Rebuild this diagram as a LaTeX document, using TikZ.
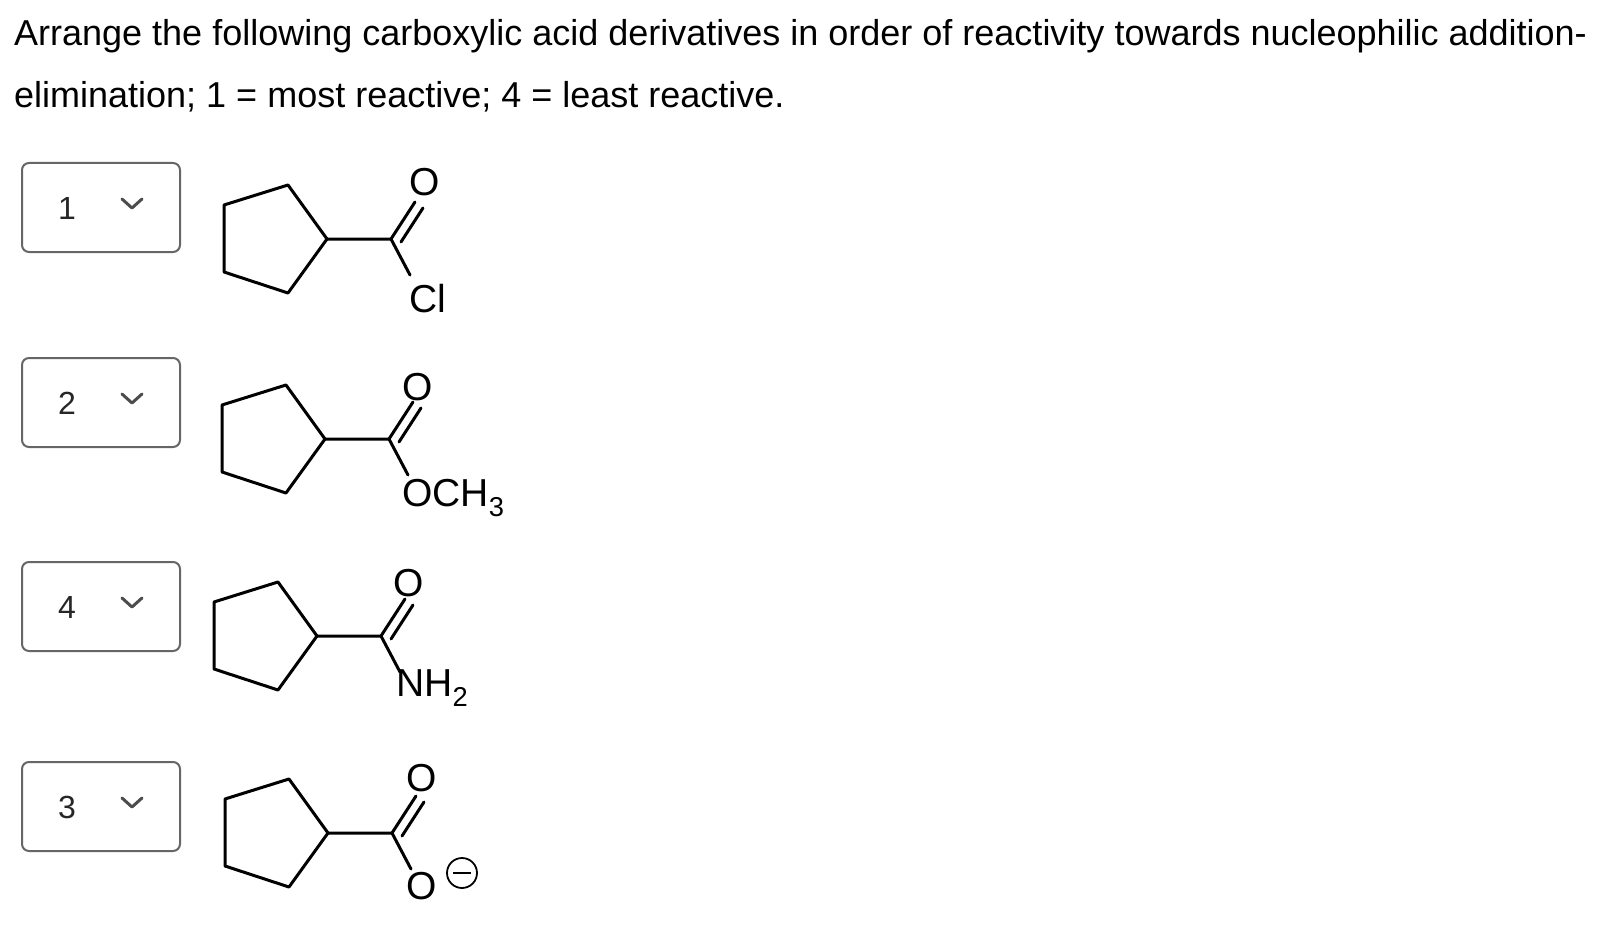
\documentclass[tikz,border=0pt]{standalone}
\usepackage{fontspec}
\setmainfont{Liberation Sans}
\begin{document}
\begin{tikzpicture}[x=1pt,y=-1pt,
  bond/.style={line width=3pt,line cap=round},
  box/.style={draw=black!60,line width=2pt,rounded corners=7pt},
  lbl/.style={font=\fontsize{36}{42}\selectfont,inner sep=0pt},
  num/.style={font=\fontsize{32}{38}\selectfont,inner sep=0pt,text=black!85},
  atom/.style={font=\fontsize{39}{44}\selectfont,inner sep=0pt}]
\useasboundingbox (0,0) rectangle (1614,928);
\node[lbl,anchor=base west] (t1) at (14,46) {Arrange the following carboxylic acid derivatives in order of reactivity towards nucleophilic addition-};
\node[lbl,anchor=base west] (t2) at (14,108) {elimination; 1 = most reactive; 4 = least reactive.};
\foreach \y/\n [count=\i] in {163/1,358/2,562/4,762/3}{
  \draw[box] (22,\y) rectangle (180,\y+89);
  \node[num] (n\i) at (67,\y+45) {\n};
  \draw[line width=3pt,line cap=round,line join=round,black!70] (122,\y+36) coordinate (v\i) -- (132,\y+45) -- (142,\y+36);
}
\newcommand\mol[2]{%
 \begin{scope}[shift={(#1,#2)}]
  \draw[bond,line join=round] (0,0) -- (-39,-54) -- (-103,-34) -- (-103,33) -- (-39,54) -- cycle;
  \draw[bond] (0,0) -- (64,0) -- (83,36);
  \draw[bond] (64,0) -- (88,-37);
  \draw[bond] (74,3) -- (96,-31);
 \end{scope}}
\mol{327}{239}
\mol{325}{439}
\mol{317}{636}
\mol{328}{833}
\node[atom] (o1) at (425,182) {O};
\node[atom,anchor=west] (cl) at (409,299) {Cl};
\node[atom] (o2) at (418,387) {O};
\node[atom,anchor=west] (och) at (402,498) {OCH\textsubscript{3}};
\node[atom] (o3) at (409,583) {O};
\node[atom,anchor=west] (nh) at (396,688) {NH\textsubscript{2}};
\node[atom] (o4) at (422,778) {O};
\node[atom] (o5) at (422,886) {O};
\node[draw,circle,line width=1.8pt,minimum size=30pt,inner sep=0pt] (m) at (462,873) {};
\draw[line width=1.8pt] ([xshift=7pt]m.west) -- ([xshift=-7pt]m.east);
\end{tikzpicture}
\end{document}
